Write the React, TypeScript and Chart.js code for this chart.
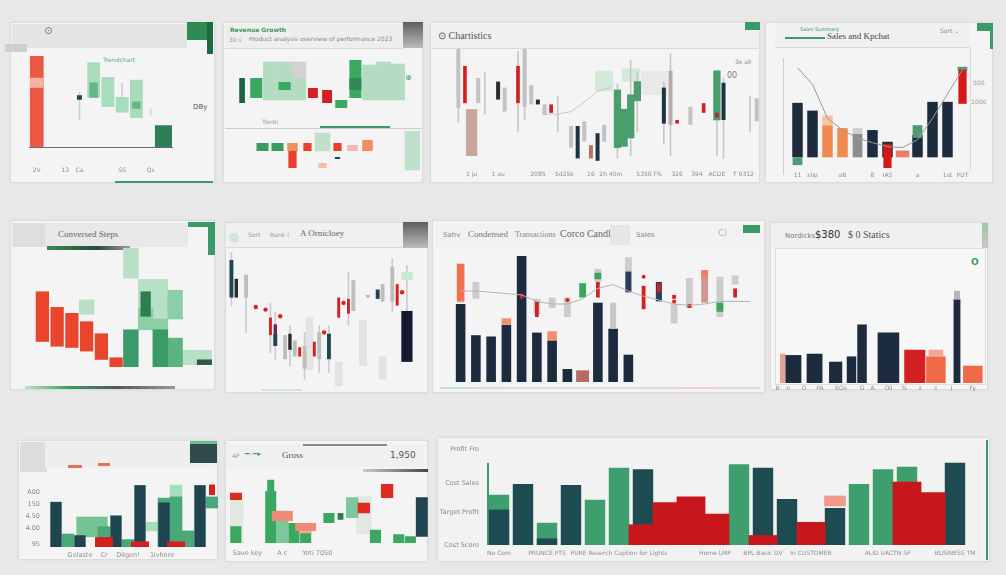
import React, { useEffect, useRef } from "react";
import { Chart, registerables } from "chart.js";

Chart.register(...registerables);
Chart.defaults.font.family = "DejaVu Sans";

// ---------- helpers ----------
function sp(n: number, entries: number[][]): any[] {
  const a: any[] = new Array(n).fill(null);
  for (const e of entries) a[e[0]] = e.length === 2 ? e[1] : [e[1], e[2]];
  return a;
}
function lab(n: number, entries: [number, string][]): string[] {
  const a: string[] = new Array(n).fill("");
  for (const [i, t] of entries) a[i] = t;
  return a;
}

// ---------- DATA ----------
// Panel 1 (top-left)
const N1 = 10;
const p1Labels = lab(N1, [[0, "2V"], [2, "13"], [3, "Ca"], [6, "SS"], [8, "Qs"]]);
const p1Wick = [[3, 30, 60], [6, 40, 70], [8, 35, 42]];
const p1Red = [[0, 0, 100]];
const p1RedBand = [[0, 65, 76]];
const p1Pale = [[4, 54, 93], [5, 44, 77], [6, 38, 55], [7, 32, 74]];
const p1Mint = [[4, 54, 71], [7, 42, 50]];
const p1Ink = [[3, 52, 57]];
const p1Forest = [[9, 0, 24]];

// Panel 2 upper
const N2 = 12;
const p2Forest = [[0, 10, 60]];
const p2Pale = [[2, 16, 92], [3, 16, 92], [4, 16, 60], [9, 16, 86], [10, 16, 92], [11, 16, 88]];
const p2Gray = [[4, 60, 92]];
const p2Green = [[1, 20, 60], [3, 36, 52], [7, 0, 16], [8, 20, 96]];
const p2Dark = [[8, 36, 60]];
const p2Red = [[5, 20, 40], [6, 10, 36]];
// Panel 2 lower
const p2bPale = [[5, 0, 36], [11, -38, 40]];
const p2bGreen = [[1, 0, 16], [2, 0, 16]];
const p2bOrange = [[3, 0, 16], [8, 0, 22]];
const p2bRed = [[3, -34, 0], [4, 0, 16], [6, 0, 16]];
const p2bPink = [[7, 0, 12]];
const p2bTeal = [[6, -16, -12]];
const p2bPeach = [[5, -34, -24]];

// Panel 3 (Chartistics candles)
const N3 = 46;
const p3Labels = lab(N3, [[2, "1 ju"], [6, "1 au"], [12, "2085"], [16, "5d25k"], [20, "16"], [23, "2h 40m"], [28, "5350"], [30, "7%"], [33, "326"], [36, "394"], [39, "ACDE"], [43, "T 9312"]]);
const p3Ghost = [[29, 61, 81], [30, 61, 81]];
const p3Pale = [[22, 64, 81], [26, 72, 83]];
const p3Brown = [[2, 10, 49]];
const p3Wick = [[0, 38, 100], [9, 30, 97], [10, 40, 100], [24, 8, 70], [26, 10, 90], [31, 20, 72], [32, 10, 95], [39, 10, 81], [40, 8, 75], [4, 45, 80], [15, 30, 60], [27, 30, 80], [44, 30, 60]];
const p3Gray = [[0, 50, 99], [3, 54, 75], [7, 47, 67], [10, 51, 99], [11, 53, 69], [13, 44, 53], [17, 17, 35], [19, 22, 39], [22, 22, 36], [35, 36, 51], [45, 39, 58]];
const p3Mauve = [[32, 36, 81]];
const p3Rust = [[20, 8, 19]];
const p3Green = [[24, 17, 65], [25, 18, 49], [26, 25, 61], [27, 56, 72], [39, 40, 81]];
const p3Navy = [[18, 8, 35], [21, 6, 29], [31, 37, 67], [40, 40, 71]];
const p3Dark = [[6, 57, 72], [12, 53, 57]];
const p3Red = [[1, 54, 85], [9, 54, 85], [14, 46, 53], [33, 37, 40], [37, 46, 54], [39, 42, 46]];
const p3Trend = [[13, 45], [15, 45], [17, 47], [19, 55], [21, 64], [23, 67]];

// Panel 4 (Sales trend)
const N4 = 12;
const p4Labels = lab(N4, [[0, "11"], [1, "slip"], [3, "aB"], [5, "8"], [6, "IAS"], [8, "a"], [10, "1st"], [11, "PUT"]]);
const p4Navy = [56, 48, null, null, null, 28, 16, null, 23, 57, 57, null];
const p4Orange = [[2, 0, 33], [3, 0, 30]];
const p4OrangeLight = [[2, 33, 43]];
const p4Gray = [[4, 0, 24]];
const p4GrayLight = [[4, 24, 30]];
const p4Salmon = [[7, 0, 7]];
const p4Cap = [[8, 20, 33], [11, 89, 93], [0, -8, 0]];
const p4Red = [[6, -11, 14], [11, 55, 90]];
const p4Trend = [92, 75, 40, 28, 20, 15, 11, 10, 18, 40, 65, 90];

// Panel 5 (Conversed Steps)
const N5 = 12;
const p5Pale = [[3, 44, 56], [6, 74, 99], [7, 33, 73], [8, 33, 73], [10, 2, 14], [11, 2, 14]];
const p5Mint = [[9, 40, 64], [7, 31, 49], [8, 0, 40]];
const p5MidGreen = [[9, 0, 24]];
const p5Green = [[6, 0, 31], [8, 0, 31]];
const p5Dark = [[7, 42, 63]];
const p5Slate = [[11, 2, 6]];
const p5Red = [[0, 21, 63], [1, 17, 50], [2, 16, 45], [3, 13, 38], [4, 6, 28], [5, 0, 8]];

// Panel 6 (A Ornicloey)
const N6 = 40;
const p6Ghost = [[16, 12, 51], [27, 15, 49], [22, 0, 18], [31, 5, 22]];
const p6Wick = [[0, 60, 100], [8, 25, 62], [9, 20, 55], [15, 5, 40], [18, 10, 45], [24, 45, 85], [33, 55, 95], [36, 50, 90], [12, 15, 45], [3, 40, 83], [20, 10, 45]];
const p6Gray = [[3, 66, 83], [11, 20, 38], [13, 22, 34], [15, 13, 30], [18, 20, 40], [25, 56, 79], [28, 66, 68], [31, 63, 76], [33, 63, 89]];
const p6Navy = [[0, 66, 94], [20, 20, 39], [30, 65, 72], [9, 30, 39]];
const p6Dark = [[1, 66, 80], [12, 27, 39]];
const p6Purple = [[9, 30, 46]];
const p6Red = [[8, 38, 51], [14, 22, 29], [17, 22, 33], [22, 51, 66], [24, 54, 65], [34, 60, 76]];
const p6Ink = [[36, 18, 56]];
const p6PaleTop = [[36, 79, 85]];
const p6Dots = [[5, 59], [7, 57], [10, 52], [19, 40], [23, 62], [35, 70]];

// Panel 7 (Condensed candles)
const N7 = 20;
const p7Navy = [60, 36, 35, 44, 97, 38, 32, 10, null, 61, 41, 21, null, null, null, null, null, null, null, null];
const p7Rose = [[8, 0, 9]];
const p7Caps = [[3, 44, 49], [6, 32, 39]];
const p7CapGray = [[10, 41, 61]];
const p7Gray = [[0, 61, 71], [1, 64, 77], [5, 52, 64], [6, 57, 65], [7, 50, 65], [9, 77, 87], [11, 85, 96], [14, 45, 60], [15, 57, 80], [17, 50, 81], [18, 75, 82]];
const p7Orange = [[0, 62, 91]];
const p7Pink = [[16, 61, 86]];
const p7PinkTop = [[16, 81, 86]];
const p7Green = [[8, 65, 76], [9, 79, 84], [17, 54, 61]];
const p7NavyFloat = [[11, 69, 85], [13, 62, 77]];
const p7Red = [[4, 64, 68], [5, 50, 62], [9, 65, 77], [12, 56, 74], [13, 69, 76], [14, 64, 67], [15, 57, 60], [18, 65, 72]];
const p7Trend = [70, 70, 69, 68, 67, 62, 60, 60, 64, 72, 75, 70, 66, 63, 60, 59, 60, 62, 62, 62];
const p7Dots = [[7, 63], [12, 81], [14, 62]];

// Panel 8 (Statics)
const N8 = 40;
const p8Labels = lab(N8, [[0, "B"], [2, "n"], [5, "O"], [8, "PA"], [12, "6Os"], [16, "G"], [18, "A"], [21, "Oil"], [24, "%"], [27, "z"], [30, "s"], [33, "J"], [37, "Fy"]]);
const p8Salmon = [[1, 0, 22]];
const p8NavyA = [[3, 0, 21], [7, 0, 22]];
const p8NavyB = [[11, 0, 16]];
const p8NavyC = [[14, 0, 20], [16, 0, 44]];
const p8NavyD = [[21, 0, 38]];
const p8NavyE = [[34, 0, 63]];
const p8NavyCap = [[34, 63, 69]];
const p8Red = [[26, 0, 25]];
const p8Orange = [[30, 0, 20], [37, 0, 13]];
const p8OrangeCap = [[30, 20, 25]];

// Panel 9 (bottom-left)
const N9 = 14;
const p9Labels = lab(N9, [[2, "Gelaste"], [4, "Cr"], [6, "Dilgen!"], [8, "1"], [9, "lvhere"]]);
const p9YTicks = [5, 30, 50, 69, 89];
const p9YLabels = ["95", "4.00", "4.50", "150", "A00"];
const p9Blob = [[3, 16, 49]];
const p9Pale = [[8, 26, 40], [10, 81, 100]];
const p9Green = [[1, 0, 21], [4, 0, 33], [6, 0, 12], [9, 0, 79], [10, 0, 81], [11, 0, 26], [13, 63, 81]];
const p9Teal = [[0, 0, 73], [2, 0, 19], [5, 0, 51], [7, 0, 100], [9, 0, 72], [12, 0, 100]];
const p9Red = [[4, 0, 16], [7, 0, 9], [10, 0, 9]];
const p9RedTop = [[13, 84, 101]];

// Panel 10 (Gross)
const N10 = 17;
const p10Labels = lab(N10, [[1, "Save key"], [4, "A c"], [7, "Yeti 7050"]]);
const p10Pale = [[11, 13, 70], [0, 0, 65]];
const p10Mint = [[4, 0, 48], [10, 38, 68]];
const p10Green = [[0, 0, 25], [3, 0, 78], [5, 0, 30], [6, 0, 18], [8, 30, 45], [12, 0, 20], [14, 0, 13], [15, 0, 10]];
const p10GreenTop = [[3, 78, 95]];
const p10Orange = [[6, 15, 25]];
const p10Pink = [[4, 33, 48], [6, 18, 30]];
const p10Red = [[0, 65, 75], [13, 68, 88], [11, 45, 60]];
const p10Dot = [[9, 35, 45]];
const p10Navy = [[16, 10, 68]];

// Panel 11 (large bottom-right)
const N11 = 20;
const p11Labels = lab(N11, [[0, "No Com"], [2, "PRUNCE PTS"], [5, "PURE Reserch Caption for Lights"], [9, "Home LMP"], [11, "BPL Basic DV"], [13, "In CUSTOMER"], [16, "ALID UACTN"], [17, "SP"], [19, "BUSINESS TM"]]);
const p11YTicks = [0, 40, 75, 116];
const p11YLabels = ["Cost Score", "Target Profit", "Cost Sales", "Profit Fro"];
const p11Teal = [43, 74, 8, 73, null, null, 92, null, null, null, null, 94, 56, null, 45, null, null, null, null, 100];
const p11Green = [61, null, 27, null, 55, 94, null, null, null, null, 98, null, null, null, null, 74, 92, 95, null, null];
const p11Red = [null, null, null, null, null, null, 25, 52, 59, 38, null, 12, null, 28, null, null, null, 77, 64, null];
const p11Pink = [[14, 47, 60]];

// ---------- chart config ----------
type SetT = { d: any[]; c: string; w?: number; thin?: boolean };
type LineT = { d: any[]; c: string; dots?: boolean; r?: number };
type Spec = {
  labels: string[];
  sets: SetT[];
  lines?: LineT[];
  min: number;
  max: number;
  pad: number[];
  xH?: number;
  xPad?: number;
  xFont?: number;
  xBorder?: string;
  yW?: number;
  yPad?: number;
  yTicks?: number[];
  yLabels?: string[];
};

function makeConfig(s: Spec): any {
  const datasets: any[] = s.sets.map((st, i) => ({
    type: "bar",
    data: st.d,
    backgroundColor: st.c,
    borderWidth: 0,
    grouped: false,
    categoryPercentage: 1,
    barPercentage: st.w ?? 0.8,
    order: 100 - i,
    ...(st.thin ? { barThickness: 1 } : {}),
  }));
  (s.lines || []).forEach((l, i) =>
    datasets.push({
      type: "line",
      data: l.d,
      borderColor: l.c,
      backgroundColor: l.c,
      borderWidth: 1,
      showLine: !l.dots,
      pointRadius: l.dots ? l.r ?? 2.5 : 0,
      pointBorderWidth: 0,
      spanGaps: true,
      order: i,
    })
  );
  return {
    type: "bar",
    data: { labels: s.labels, datasets },
    options: {
      responsive: false,
      animation: false,
      events: [],
      layout: { padding: { left: s.pad[0], top: s.pad[1], right: s.pad[2], bottom: s.pad[3] } },
      plugins: { legend: { display: false }, tooltip: { enabled: false } },
      scales: {
        x: {
          type: "category",
          display: !!s.xH,
          offset: true,
          grid: { display: false, drawTicks: false },
          border: { display: !!s.xBorder, color: s.xBorder || "#000", width: 1 },
          ticks: {
            autoSkip: false,
            maxRotation: 0,
            minRotation: 0,
            font: { size: s.xFont ?? 6 },
            color: "#8e8e8e",
            padding: s.xPad ?? 3,
          },
          afterFit: (sc: any) => {
            if (s.xH) sc.height = s.xH;
          },
        },
        y: {
          min: s.min,
          max: s.max,
          display: !!s.yW,
          grid: { display: false, drawTicks: false },
          border: { display: false },
          afterFit: (sc: any) => {
            if (s.yW) sc.width = s.yW;
          },
          afterBuildTicks: (sc: any) => {
            if (s.yTicks) sc.ticks = s.yTicks.map((v) => ({ value: v }));
          },
          ticks: {
            autoSkip: false,
            font: { size: 6.5 },
            color: "#8a8a8a",
            padding: s.yPad ?? 4,
            callback: (v: any, i: number) => (s.yLabels ? s.yLabels[i] : v),
          },
        },
      },
    },
  };
}

function ChartCanvas({ x, y, w, h, spec }: { x: number; y: number; w: number; h: number; spec: Spec }) {
  const ref = useRef<HTMLCanvasElement>(null);
  useEffect(() => {
    const chart = new Chart(ref.current as HTMLCanvasElement, makeConfig(spec));
    return () => chart.destroy();
  }, []);
  return <canvas ref={ref} width={w} height={h} style={{ position: "absolute", left: x, top: y, width: w, height: h }} />;
}

// ---------- specs ----------
const spec1: Spec = {
  labels: p1Labels,
  sets: [
    { d: sp(N1, p1Wick), c: "#d0d0d0", thin: true },
    { d: sp(N1, p1Red), c: "#ea5a44", w: 0.97 },
    { d: sp(N1, p1RedBand), c: "#f3b3a4", w: 0.97 },
    { d: sp(N1, p1Pale), c: "#a9dcbc", w: 0.9 },
    { d: sp(N1, p1Mint), c: "#62b985", w: 0.6 },
    { d: sp(N1, p1Ink), c: "#1d4a45", w: 0.35 },
    { d: sp(N1, p1Forest), c: "#2f7f56", w: 1.4 },
  ],
  min: 0, max: 100, pad: [15, 6, 40, 0], xH: 33, xPad: 20, xBorder: "#6a6a6a",
};
const spec2a: Spec = {
  labels: lab(N2, []),
  sets: [
    { d: sp(N2, p2Pale), c: "#b4dcc2", w: 1.0 },
    { d: sp(N2, p2Gray), c: "#d2d2d2", w: 1.0 },
    { d: sp(N2, p2Forest), c: "#1f5f45", w: 0.4 },
    { d: sp(N2, p2Green), c: "#3aa860", w: 0.85 },
    { d: sp(N2, p2Dark), c: "#2f8a58", w: 0.85 },
    { d: sp(N2, p2Red), c: "#d42020", w: 0.7 },
  ],
  min: 0, max: 100, pad: [10, 6, 15, 4],
};
const spec2b: Spec = {
  labels: lab(N2, []),
  sets: [
    { d: sp(N2, p2bPale), c: "#bfe0ca", w: 1.0 },
    { d: sp(N2, p2bGreen), c: "#3a9a60", w: 0.8 },
    { d: sp(N2, p2bOrange), c: "#f09060", w: 0.7 },
    { d: sp(N2, p2bRed), c: "#e8402a", w: 0.55 },
    { d: sp(N2, p2bPink), c: "#f5b5b0", w: 0.7 },
    { d: sp(N2, p2bTeal), c: "#1f4650", w: 0.35 },
    { d: sp(N2, p2bPeach), c: "#f5c0a0", w: 0.55 },
  ],
  min: -40, max: 40, pad: [15, 2, 3, 2],
};
const spec3: Spec = {
  labels: p3Labels,
  sets: [
    { d: sp(N3, p3Ghost), c: "#e8e8e8", w: 3.0 },
    { d: sp(N3, p3Pale), c: "#d3e9da", w: 2.7 },
    { d: sp(N3, p3Brown), c: "#c9a59c", w: 1.7 },
    { d: sp(N3, p3Wick), c: "#c8c8c8", thin: true },
    { d: sp(N3, p3Gray), c: "#c2c2c2", w: 0.6 },
    { d: sp(N3, p3Mauve), c: "#b9a9a9", w: 0.6 },
    { d: sp(N3, p3Rust), c: "#b9705e", w: 0.6 },
    { d: sp(N3, p3Green), c: "#4a9e6e", w: 1.0 },
    { d: sp(N3, p3Navy), c: "#1c3340", w: 0.6 },
    { d: sp(N3, p3Dark), c: "#2b2b2b", w: 0.6 },
    { d: sp(N3, p3Red), c: "#d41e1e", w: 0.55 },
  ],
  lines: [{ d: sp(N3, p3Trend), c: "#c4c4c4" }],
  min: 0, max: 100, pad: [23, 3, 0, 0], xH: 12,
};
const spec4: Spec = {
  labels: p4Labels,
  sets: [
    { d: p4Navy, c: "#1c2b3d", w: 0.7 },
    { d: sp(N4, p4Orange), c: "#f08a50", w: 0.7 },
    { d: sp(N4, p4OrangeLight), c: "#f6c4a4", w: 0.7 },
    { d: sp(N4, p4Gray), c: "#8d8d8d", w: 0.65 },
    { d: sp(N4, p4GrayLight), c: "#cdcdcd", w: 0.65 },
    { d: sp(N4, p4Salmon), c: "#f07a68", w: 0.9 },
    { d: sp(N4, p4Cap), c: "#4f9a72", w: 0.65 },
    { d: sp(N4, p4Red), c: "#d41818", w: 0.55 },
  ],
  lines: [{ d: p4Trend, c: "#9a9a9a" }],
  min: -12, max: 100, pad: [23, 10, 2, 0], xH: 11,
};
const spec5: Spec = {
  labels: lab(N5, []),
  sets: [
    { d: sp(N5, p5Pale), c: "#b8e0c6", w: 1.0 },
    { d: sp(N5, p5Mint), c: "#8ccfa6", w: 1.0 },
    { d: sp(N5, p5MidGreen), c: "#5cb482", w: 1.0 },
    { d: sp(N5, p5Green), c: "#3a9a68", w: 1.0 },
    { d: sp(N5, p5Dark), c: "#2e7d4f", w: 0.7 },
    { d: sp(N5, p5Slate), c: "#2e5a48", w: 1.0 },
    { d: sp(N5, p5Red), c: "#e8452c", w: 0.9 },
  ],
  min: 0, max: 100, pad: [23, 2, 3, 13],
};
const spec6: Spec = {
  labels: lab(N6, []),
  sets: [
    { d: sp(N6, p6Ghost), c: "#e3e3e3", w: 1.6 },
    { d: sp(N6, p6Wick), c: "#cccccc", thin: true },
    { d: sp(N6, p6Gray), c: "#bdbdbd", w: 0.8 },
    { d: sp(N6, p6Purple), c: "#7a2050", w: 0.7 },
    { d: sp(N6, p6Navy), c: "#1e4650", w: 0.8 },
    { d: sp(N6, p6Dark), c: "#2a2a2a", w: 0.7 },
    { d: sp(N6, p6Red), c: "#d42020", w: 0.6 },
    { d: sp(N6, p6Ink), c: "#141830", w: 2.3 },
    { d: sp(N6, p6PaleTop), c: "#c8e8d0", w: 2.3 },
  ],
  lines: [{ d: sp(N6, p6Dots), c: "#e02020", dots: true, r: 2.2 }],
  min: 0, max: 100, pad: [2, 7, 1, 2],
};
const spec7: Spec = {
  labels: lab(N7, []),
  sets: [
    { d: p7Navy, c: "#1c2b3d", w: 0.63 },
    { d: sp(N7, p7Rose), c: "#b86a66", w: 0.85 },
    { d: sp(N7, p7Caps), c: "#f0906e", w: 0.63 },
    { d: sp(N7, p7CapGray), c: "#c8c8c8", w: 0.4 },
    { d: sp(N7, p7Gray), c: "#cccccc", w: 0.45 },
    { d: sp(N7, p7Orange), c: "#f07050", w: 0.5 },
    { d: sp(N7, p7Pink), c: "#d09890", w: 0.45 },
    { d: sp(N7, p7PinkTop), c: "#f08060", w: 0.45 },
    { d: sp(N7, p7Green), c: "#3aa860", w: 0.45 },
    { d: sp(N7, p7NavyFloat), c: "#2a3d5a", w: 0.4 },
    { d: sp(N7, p7Red), c: "#d42020", w: 0.25 },
  ],
  lines: [
    { d: sp(N7, p7Dots), c: "#e02020", dots: true, r: 2 },
    { d: p7Trend, c: "#b4b4b4" },
  ],
  min: 0, max: 100, pad: [18, 0, 4, 6],
};
const spec8: Spec = {
  labels: p8Labels,
  sets: [
    { d: sp(N8, p8Salmon), c: "#e3a593", w: 1.1 },
    { d: sp(N8, p8NavyA), c: "#1c2b3d", w: 3.0 },
    { d: sp(N8, p8NavyB), c: "#1c2b3d", w: 2.5 },
    { d: sp(N8, p8NavyC), c: "#1c2b3d", w: 1.8 },
    { d: sp(N8, p8NavyD), c: "#1c2b3d", w: 4.1 },
    { d: sp(N8, p8NavyE), c: "#1c2b3d", w: 1.3 },
    { d: sp(N8, p8NavyCap), c: "#b4b4bc", w: 1.0 },
    { d: sp(N8, p8Red), c: "#d42020", w: 4.0 },
    { d: sp(N8, p8Orange), c: "#f06a45", w: 3.7 },
    { d: sp(N8, p8OrangeCap), c: "#f2a496", w: 2.8 },
  ],
  min: 0, max: 100, pad: [3, 0, 0, 0], xH: 10, xPad: 2,
};
const spec9: Spec = {
  labels: p9Labels,
  sets: [
    { d: sp(N9, p9Blob), c: "#72c495", w: 2.6 },
    { d: sp(N9, p9Pale), c: "#a8dcbc", w: 1.0 },
    { d: sp(N9, p9Green), c: "#4aa878", w: 1.0 },
    { d: sp(N9, p9Teal), c: "#1f4650", w: 0.95 },
    { d: sp(N9, p9Red), c: "#d42020", w: 1.5 },
    { d: sp(N9, p9RedTop), c: "#d42020", w: 0.5 },
  ],
  min: 0, max: 102, pad: [0, 4, 0, 0], xH: 15, xPad: 4, xFont: 6.5,
  yW: 32, yPad: 10, yTicks: p9YTicks, yLabels: p9YLabels,
};
const spec10: Spec = {
  labels: p10Labels,
  sets: [
    { d: sp(N10, p10Pale), c: "#e0e8e2", w: 1.3 },
    { d: sp(N10, p10Mint), c: "#7cc89a", w: 1.0 },
    { d: sp(N10, p10Green), c: "#3aa860", w: 0.95 },
    { d: sp(N10, p10GreenTop), c: "#3aa860", w: 0.6 },
    { d: sp(N10, p10Orange), c: "#f0b090", w: 1.0 },
    { d: sp(N10, p10Pink), c: "#f08a78", w: 1.8 },
    { d: sp(N10, p10Red), c: "#e02a1f", w: 1.0 },
    { d: sp(N10, p10Dot), c: "#2e7d4f", w: 0.5 },
    { d: sp(N10, p10Navy), c: "#1f4650", w: 1.0 },
  ],
  min: 0, max: 105, pad: [3, 3, 0, 0], xH: 19, xPad: 6, xFont: 6.5,
};
const spec11: Spec = {
  labels: p11Labels,
  sets: [
    { d: p11Green, c: "#3f9e6e", w: 0.85 },
    { d: p11Teal, c: "#1e4a52", w: 0.85 },
    { d: sp(N11, p11Pink), c: "#f29a8a", w: 0.9 },
    { d: p11Red, c: "#c8161d", w: 1.2 },
  ],
  min: 0, max: 118, pad: [0, 5, 23, 0], xH: 20, xPad: 5, xFont: 6,
  yW: 47, yPad: 8, yTicks: p11YTicks, yLabels: p11YLabels,
};

// ---------- chrome ----------
const R = ({ x, y, w, h, bg, st }: any) => (
  <div style={{ position: "absolute", left: x, top: y, width: w, height: h, background: bg, ...(st || {}) }} />
);
const T = ({ x, y, s = 7, c = "#888", f = "DejaVu Sans", b = 400, children }: any) => (
  <div style={{ position: "absolute", left: x, top: y, fontSize: s, color: c, fontFamily: f, fontWeight: b, whiteSpace: "nowrap", lineHeight: 1 }}>
    {children}
  </div>
);
const Panel = ({ x, y, w, h, bg = "#f4f4f4" }: any) => (
  <div
    style={{
      position: "absolute", left: x, top: y, width: w, height: h, background: bg,
      border: "1px solid #dcdcdc", boxSizing: "border-box", boxShadow: "0 0 3px rgba(0,0,0,0.05)",
    }}
  />
);
const SERIF = "Liberation Serif";

export default function App() {
  return (
    <div style={{ position: "fixed", left: 0, top: 0, width: 1006, height: 575, background: "#e8e8e8", overflow: "hidden" }}>
      {/* Row 1 panels */}
      <Panel x={10} y={22} w={205} h={161} />
      <R x={12} y={24} w={175} h={24} bg="#e4e4e4" />
      <R x={187} y={22} w={26} h={18} bg="#2f8a55" />
      <R x={207} y={22} w={6} h={32} bg="#1f6b40" />
      <R x={5} y={44} w={22} h={8} bg="#cfcfcf" />
      <R x={115} y={181} w={98} h={2} bg="#3a9a68" />
      <T x={44} y={26} s={10} c="#777">⊙</T>
      <T x={103} y={57} s={6} c="#5aaa7a">Trendchart</T>
      <T x={193} y={104} s={7} c="#555">DBy</T>

      <Panel x={223} y={22} w={200} h={161} />
      <R x={225} y={24} w={178} h={24} bg="#eeeeee" st={{ borderBottom: "1px solid #dadada" }} />
      <R x={403} y={22} w={20} h={26} bg="linear-gradient(180deg,#5e5e5e,#bcbcbc)" />
      <T x={230} y={27} s={6} c="#3a9a60" b={700}>Revenue Growth</T>
      <T x={229} y={37} s={6} c="#999">30 s</T>
      <T x={249} y={36} s={6} c="#888">Product analysis overview of performance 2023</T>
      <T x={262} y={119} s={6} c="#999">Tredn</T>
      <T x={405} y={74} s={8} c="#3a9a60">⊕</T>
      <R x={225} y={128} w={196} h={1} bg="#cdcdcd" />
      <R x={320} y={126} w={70} h={2} bg="#3a9a68" />

      <Panel x={430} y={22} w={330} h={161} />
      <R x={432} y={24} w={326} h={24} bg="#f0f0f0" st={{ borderBottom: "1px solid #dadada" }} />
      <R x={745} y={22} w={15} h={8} bg="#3a9a68" />
      <T x={438} y={31} s={10} c="#555" f={SERIF}>⊙ Chartistics</T>
      <T x={735} y={59} s={6} c="#888">3x all</T>
      <T x={727} y={72} s={8} c="#777">00</T>

      <Panel x={765} y={22} w={228} h={161} />
      <R x={775} y={23} w={195} h={24} bg="#f0f0f0" st={{ borderBottom: "1px solid #dadada" }} />
      <R x={977} y={23} w={16} h={8} bg="#3a9a68" />
      <R x={990} y={23} w={3} h={26} bg="#3a9a68" />
      <T x={800} y={27} s={5} c="#3a9a60">Sales Summary</T>
      <R x={785} y={37} w={40} h={2} bg="#3a9a68" />
      <T x={827} y={32} s={9} c="#444" f={SERIF}>Sales and Kpchat</T>
      <T x={940} y={28} s={6} c="#888">Sort ⌄</T>
      <R x={970} y={48} w={1} h={122} bg="#d8d8d8" />
      <R x={783} y={58} w={1} h={117} bg="#cfcfcf" />
      <T x={973} y={80} s={6} c="#999">500</T>
      <T x={971} y={99} s={6} c="#999">1000</T>

      {/* Row 2 panels */}
      <Panel x={10} y={220} w={205} h={170} />
      <R x={12} y={223} w={176} h={24} bg="#e8e8e8" />
      <R x={13} y={223} w={32} h={24} bg="#dedede" />
      <R x={188} y={222} w={27} h={5} bg="#3a9a68" />
      <R x={208} y={222} w={7} h={33} bg="#3a9a68" />
      <R x={47} y={246} w={83} h={4} bg="linear-gradient(90deg,#3a8a5a,#2a4a3a 60%,#9a9a9a)" />
      <R x={25} y={386} w={150} h={3} bg="linear-gradient(90deg,#bfe0c8,#3a9a68 30%,#555 60%,#999)" />
      <T x={58} y={230} s={9} c="#666" f={SERIF}>Conversed Steps</T>

      <Panel x={225} y={222} w={203} h={171} />
      <R x={227} y={223} w={176} h={24} bg="#f0f0f0" st={{ borderBottom: "1px solid #dadada" }} />
      <R x={403} y={222} w={25} h={26} bg="linear-gradient(180deg,#5e5e5e,#bcbcbc)" />
      <div style={{ position: "absolute", left: 229, top: 233, width: 10, height: 10, borderRadius: 5, background: "#cfe8d6" }} />
      <T x={248} y={232} s={6} c="#999">Sort</T>
      <T x={270} y={232} s={6} c="#999">Rank ⟨</T>
      <T x={300} y={229} s={9} c="#666" f={SERIF}>A Ornicloey</T>
      <R x={262} y={389} w={40} h={2} bg="#cfe6d6" />

      <Panel x={432} y={220} w={333} h={173} />
      <R x={435} y={223} w={325} h={25} bg="#f2f2f2" />
      <R x={743} y={225} w={17} h={8} bg="#3a9a68" />
      <T x={443} y={232} s={7} c="#888">Sahv</T>
      <T x={468} y={230} s={9} c="#777" f={SERIF}>Condensed</T>
      <T x={515} y={231} s={8} c="#888" f={SERIF}>Transactions</T>
      <T x={560} y={229} s={10} c="#666" f={SERIF}>Corco Candl</T>
      <R x={610} y={225} w={20} h={20} bg="#e6e6e6" />
      <T x={636} y={232} s={7} c="#888">Sales</T>
      <T x={718} y={229} s={9} c="#bbb">Cl</T>
      <R x={440} y={387} w={320} h={2} bg="linear-gradient(90deg,#bfe0c8,#ddd 20%,#cfe6d6 60%,#f0d0c8 80%,#ddd)" />

      <Panel x={770} y={222} w={218} h={168} />
      <R x={772} y={223} w={212} h={24} bg="#f0f0f0" />
      <R x={982} y={223} w={6} h={25} bg="linear-gradient(180deg,#9ac8a8,#c8c8c8)" />
      <R x={775} y={248} w={211} h={137} bg="#f7f7f7" st={{ border: "1px solid #dedede", boxSizing: "border-box" }} />
      <T x={785} y={233} s={7} c="#777">Nordicks</T>
      <T x={815} y={230} s={10} c="#333">$380</T>
      <T x={848} y={230} s={10} c="#555" f={SERIF}>$ 0 Statics</T>
      <T x={971} y={258} s={9} c="#3a9a60" b={700}>O</T>

      {/* Row 3 panels */}
      <Panel x={18} y={440} w={200} h={120} />
      <R x={20} y={442} w={27} h={30} bg="#dcdcdc" />
      <R x={45} y={442} w={170} h={26} bg="#eeeeee" />
      <R x={190} y={443} w={27} h={20} bg="#2f4a4a" />
      <R x={190} y={441} w={27} h={3} bg="#6ac090" />
      <R x={68} y={465} w={14} h={3} bg="#e8705a" />
      <R x={98} y={463} w={12} h={3} bg="#e8705a" />

      <Panel x={225} y={440} w={203} h={122} />
      <R x={227} y={443} w={198} h={24} bg="#f0f0f0" />
      <R x={303} y={444} w={84} h={2} bg="#8a8a8a" />
      <T x={232} y={453} s={6} c="#999">4P</T>
      <T x={245} y={451} s={7} c="#3a9a68">━◦━▸</T>
      <T x={282} y={451} s={9} c="#555" f={SERIF}>Gross</T>
      <T x={390} y={451} s={9} c="#555">1,950</T>
      <R x={363} y={469} w={65} h={3} bg="linear-gradient(90deg,#cccccc,#444)" />

      <Panel x={437} y={437} w={553} h={125} bg="#f2f2f2" />
      <R x={487} y={463} w={2} h={82} bg="#3a9a68" />
      <R x={986} y={440} w={2} h={120} bg="#3a9a68" />

      {/* Charts */}
      <ChartCanvas x={12} y={50} w={200} h={130} spec={spec1} />
      <ChartCanvas x={225} y={52} w={195} h={60} spec={spec2a} />
      <ChartCanvas x={225} y={129} w={198} h={44} spec={spec2b} />
      <ChartCanvas x={432} y={45} w={328} h={135} spec={spec3} />
      <ChartCanvas x={767} y={50} w={205} h={130} spec={spec4} />
      <ChartCanvas x={12} y={245} w={203} h={135} spec={spec5} />
      <ChartCanvas x={225} y={245} w={203} h={145} spec={spec6} />
      <ChartCanvas x={435} y={248} w={327} h={140} spec={spec7} />
      <ChartCanvas x={772} y={250} w={214} h={143} spec={spec8} />
      <ChartCanvas x={18} y={470} w={200} h={92} spec={spec9} />
      <ChartCanvas x={227} y={470} w={201} h={92} spec={spec10} />
      <ChartCanvas x={440} y={436} w={550} h={129} spec={spec11} />
    </div>
  );
}
